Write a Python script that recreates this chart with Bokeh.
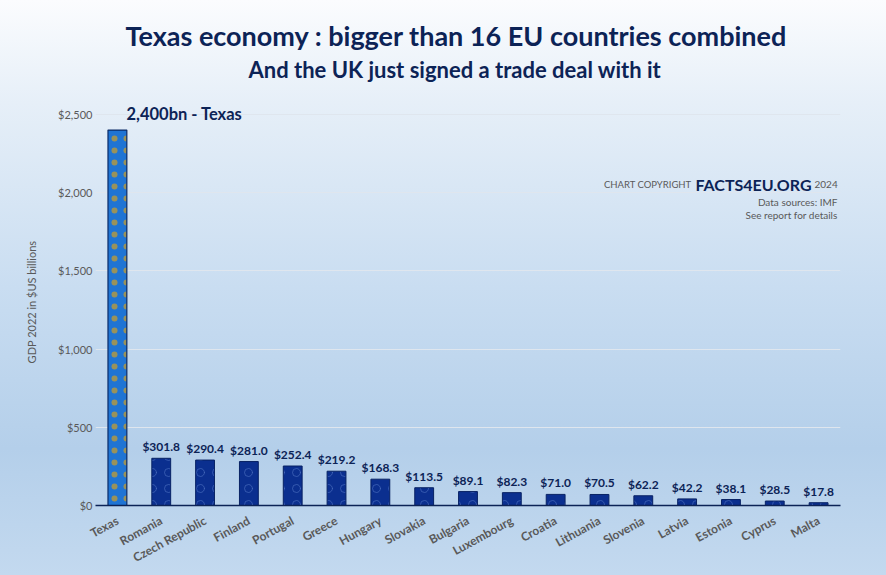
from bokeh.plotting import figure
from bokeh.models import (ColumnDataSource, FactorRange, Range1d, NumeralTickFormatter,
                          Label, FixedTicker, Title)
from bokeh.core.properties import value
from bokeh.embed import file_html
from bokeh.resources import INLINE

# ---- data ----
countries = ["Texas", "Romania", "Czech Republic", "Finland", "Portugal", "Greece",
             "Hungary", "Slovakia", "Bulgaria", "Luxembourg", "Croatia", "Lithuania",
             "Slovenia", "Latvia", "Estonia", "Cyprus", "Malta"]
gdp = [2400.0, 301.8, 290.4, 281.0, 252.4, 219.2, 168.3, 113.5, 89.1, 82.3,
       71.0, 70.5, 62.2, 42.2, 38.1, 28.5, 17.8]
y_ticks = [0, 500, 1000, 1500, 2000, 2500]

title_text = "Texas economy : bigger than 16 EU countries combined"
subtitle_text = "And the UK just signed a trade deal with it"
texas_note = "2,400bn - Texas"

FONT = "Lato"
NAVY = "#0c2356"
GREY = "#595959"

W, H = 886, 575
LEFT, RIGHT, TOP, BOTTOM = 95, 46, 98, 70

p = figure(width=W, height=H, x_range=FactorRange(*countries, range_padding=0),
           y_range=Range1d(0, 2602), output_backend="svg", toolbar_location=None,
           min_border_left=LEFT, min_border_right=RIGHT, min_border_top=TOP,
           min_border_bottom=BOTTOM)
p.styles = {"background": "linear-gradient(to bottom, #fbfcfe 0%, #e6eff8 18%, #c9ddf1 50%, #b4cfea 78%, #c3d9ef 100%)"}
p.border_fill_color = None
p.background_fill_color = None
p.outline_line_color = None

# titles: p.title is the main title; the subtitle added later sits closer to the plot
p.title.text = title_text
p.title.align = "left"
p.title.offset = 30
p.title.text_font = FONT
p.title.text_font_size = "27px"
p.title.text_font_style = "bold"
p.title.text_color = NAVY
p.title.standoff = -27
p.add_layout(Title(text=subtitle_text, align="left", offset=153, text_font=FONT,
                   text_font_size="22px", text_font_style="bold", text_color=NAVY,
                   standoff=31), "above")

eu_c = countries[1:]
eu_v = gdp[1:]
src_tx = ColumnDataSource(dict(x=countries[:1], top=gdp[:1]))
src_eu = ColumnDataSource(dict(x=eu_c, top=eu_v, lab=["$%.1f" % v for v in eu_v]))

p.vbar(x="x", top="top", width=0.43, source=src_tx, fill_color="#1f74d4",
       line_color="#0b2a66", line_width=1.2, hatch_pattern="dot", hatch_color="#b89a3c",
       hatch_scale=12, hatch_weight=1.5, hatch_alpha=0.8)
p.vbar(x="x", top="top", width=0.43, source=src_eu, fill_color="#0b2f8f",
       line_color="#082264", line_width=1, hatch_pattern="ring", hatch_color="#4d6fc0",
       hatch_scale=16, hatch_weight=1, hatch_alpha=0.6)

p.text(x="x", y="top", text="lab", source=src_eu, text_align="center",
       text_baseline="bottom", y_offset=-4, text_font=value(FONT),
       text_font_size="12px", text_font_style="bold", text_color=NAVY)

# axes
p.yaxis.ticker = FixedTicker(ticks=y_ticks)
p.yaxis.formatter = NumeralTickFormatter(format="$0,0")
p.yaxis.axis_line_color = None
p.yaxis.major_tick_line_color = None
p.yaxis.major_tick_out = 0
p.yaxis.major_tick_in = 0
p.yaxis.minor_tick_line_color = None
p.yaxis.major_label_text_font = FONT
p.yaxis.major_label_text_font_size = "11px"
p.yaxis.major_label_text_color = GREY
p.yaxis.major_label_standoff = 3
p.yaxis.axis_label = "GDP 2022 in $US billions"
p.yaxis.axis_label_text_font = FONT
p.yaxis.axis_label_text_font_size = "11px"
p.yaxis.axis_label_text_font_style = "normal"
p.yaxis.axis_label_text_color = GREY
p.yaxis.axis_label_standoff = 17

p.xaxis.axis_line_color = "#0c2356"
p.xaxis.axis_line_width = 1.5
p.xaxis.major_tick_line_color = None
p.xaxis.major_tick_out = 0
p.xaxis.major_tick_in = 0
p.xaxis.minor_tick_line_color = None
p.xaxis.major_label_orientation = 0.5
p.xaxis.major_label_text_font = FONT
p.xaxis.major_label_text_font_size = "12px"
p.xaxis.major_label_text_font_style = "bold"
p.xaxis.major_label_text_color = GREY
p.xaxis.major_label_standoff = 14

p.xgrid.grid_line_color = None
p.ygrid.grid_line_color = "#dfe6ee"
p.ygrid.grid_line_width = 1

# annotations (screen units relative to the plot frame)
def lab(text, x, y, size, bold=False, color=NAVY, align="left", yunits="screen", baseline="alphabetic"):
    p.add_layout(Label(text=text, x=x, y=y, x_units="screen", y_units=yunits,
                       text_font=FONT, text_font_size=size,
                       text_font_style="bold" if bold else "normal",
                       text_color=color, text_align=align, text_baseline=baseline))

lab(texas_note, 126 - LEFT, 2500, "16.5px", True, yunits="data", baseline="middle")

base = H - BOTTOM
lab("2024", 814 - LEFT, base - 184, "10px", False, GREY, "left")
lab("FACTS4EU.ORG", 811 - LEFT, base - 184, "16px", True, NAVY, "right")
lab("CHART COPYRIGHT", 691 - LEFT, base - 184, "9.5px", False, GREY, "right")
lab("Data sources: IMF", 837 - LEFT, base - 201, "10px", False, GREY, "right")
lab("See report for details", 837 - LEFT, base - 214, "10px", False, GREY, "right")

open("out.html", "w").write(file_html(p, INLINE))
